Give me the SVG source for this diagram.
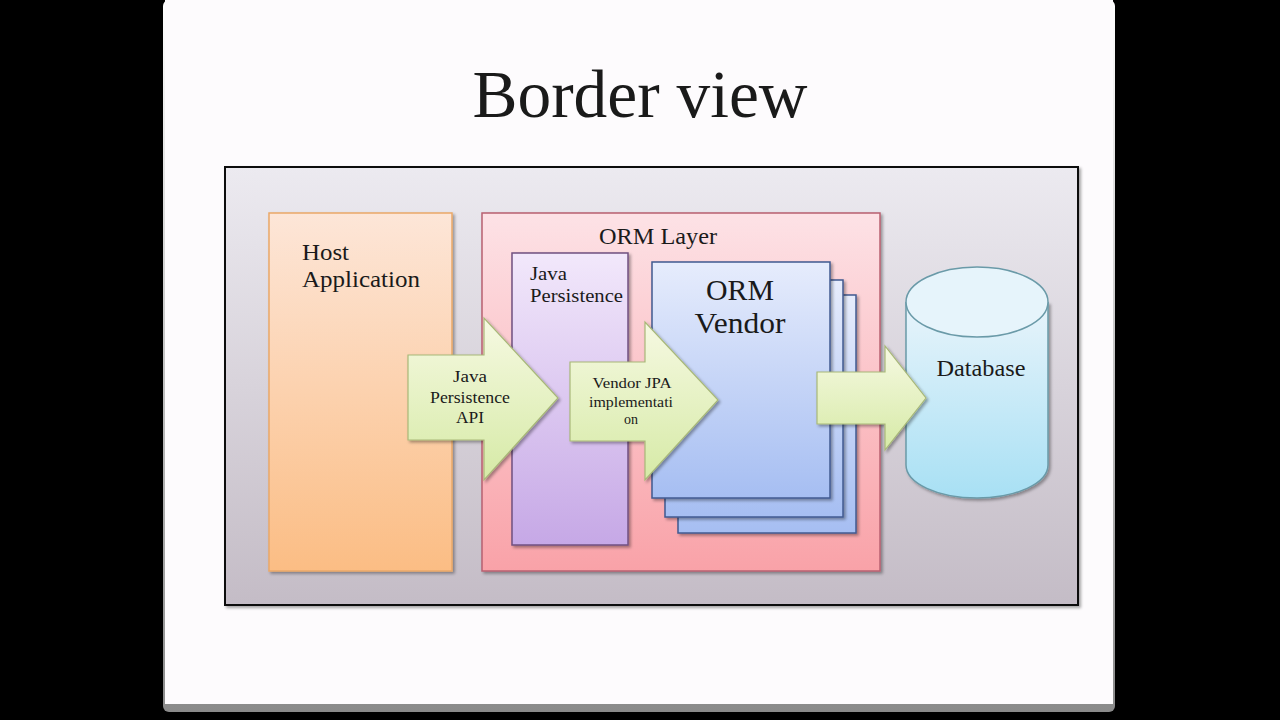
<svg xmlns="http://www.w3.org/2000/svg" width="1280" height="720" viewBox="0 0 1280 720">
<defs>
<linearGradient id="gOuter" x1="0" y1="0" x2="0" y2="1"><stop offset="0" stop-color="#eceaf0"/><stop offset="1" stop-color="#c4bcc6"/></linearGradient>
<linearGradient id="gHost" x1="0" y1="0" x2="0" y2="1"><stop offset="0" stop-color="#fde6d8"/><stop offset="1" stop-color="#fbbd84"/></linearGradient>
<linearGradient id="gOrm" x1="0" y1="0" x2="0" y2="1"><stop offset="0" stop-color="#fde2e6"/><stop offset="1" stop-color="#f9a2a8"/></linearGradient>
<linearGradient id="gJava" x1="0" y1="0" x2="0" y2="1"><stop offset="0" stop-color="#f2e8fb"/><stop offset="1" stop-color="#c6a8e6"/></linearGradient>
<linearGradient id="gVendor" x1="0" y1="0" x2="0" y2="1"><stop offset="0" stop-color="#e6ecfc"/><stop offset="1" stop-color="#a6bef2"/></linearGradient>
<linearGradient id="gArrow" x1="0" y1="0" x2="0" y2="1"><stop offset="0" stop-color="#f6f9e2"/><stop offset="1" stop-color="#d6eaa6"/></linearGradient>
<linearGradient id="gDb" x1="0" y1="0" x2="0" y2="1"><stop offset="0" stop-color="#e8f4fb"/><stop offset="1" stop-color="#a8e0f4"/></linearGradient>
<linearGradient id="gSlideShadow" x1="0" y1="0" x2="0" y2="1"><stop offset="0" stop-color="#ffffff"/><stop offset="1" stop-color="#8a8a8a"/></linearGradient>
<filter id="sh" x="-5%" y="-5%" width="115%" height="115%"><feDropShadow dx="2" dy="2" stdDeviation="1.5" flood-color="#000" flood-opacity="0.35"/></filter>
</defs>
<style>
.t{font-family:"Liberation Serif","Times New Roman",serif;fill:#1a1a1a}
.arrow{fill:url(#gArrow);stroke:#a8b878;stroke-width:1.2;filter:url(#sh)}
.page{fill:url(#gVendor);stroke:#405a90;stroke-width:1.5;filter:url(#sh)}
</style>
<rect x="0" y="0" width="1280" height="720" fill="#000"/>
<rect x="163" y="0" width="952" height="712" rx="6" fill="url(#gSlideShadow)"/>
<rect x="165" y="0" width="948" height="704" fill="#fdfbfd"/>
<text class="t" x="640" y="117" font-size="67" text-anchor="middle" fill="#222" textLength="335" lengthAdjust="spacingAndGlyphs">Border view</text>

<g id="outer">
<rect x="225" y="167" width="853" height="438" fill="url(#gOuter)" stroke="#111" stroke-width="2" filter="url(#sh)"/>
</g>
<g id="host">
<rect x="269" y="213" width="183" height="358" fill="url(#gHost)" stroke="#eaa868" stroke-width="1.5" filter="url(#sh)"/>
<text class="t" x="302" y="260" font-size="23" textLength="47" lengthAdjust="spacingAndGlyphs">Host</text>
<text class="t" x="302" y="287" font-size="23" textLength="118" lengthAdjust="spacingAndGlyphs">Application</text>
</g>
<g id="orm-layer">
<rect x="482" y="213" width="398" height="358" fill="url(#gOrm)" stroke="#b86070" stroke-width="1.5" filter="url(#sh)"/>
<text class="t" x="599" y="244" font-size="23" textLength="118" lengthAdjust="spacingAndGlyphs">ORM Layer</text>
</g>
<g id="java-persistence">
<rect x="512" y="253" width="116" height="292" fill="url(#gJava)" stroke="#705080" stroke-width="1.5" filter="url(#sh)"/>
<text class="t" x="530" y="280" font-size="18" textLength="37" lengthAdjust="spacingAndGlyphs">Java</text>
<text class="t" x="530" y="302" font-size="18" textLength="93" lengthAdjust="spacingAndGlyphs">Persistence</text>
</g>
<g id="orm-vendor">
<rect class="page" x="678" y="295" width="178" height="238"/>
<rect class="page" x="665" y="280" width="178" height="237"/>
<rect class="page" x="652" y="262" width="178" height="236"/>
<text class="t" x="740" y="300" font-size="29" text-anchor="middle" textLength="68" lengthAdjust="spacingAndGlyphs">ORM</text>
<text class="t" x="740" y="333" font-size="29" text-anchor="middle" textLength="91" lengthAdjust="spacingAndGlyphs">Vendor</text>
</g>
<g id="database">
<path d="M906,302 L906,465 A71,33 0 0 0 1048,465 L1048,302" fill="url(#gDb)" stroke="#6a9aa8" stroke-width="1.5" filter="url(#sh)"/>
<ellipse cx="977" cy="302" rx="71" ry="35" fill="#e6f4fb" stroke="#6a9aa8" stroke-width="1.5"/>
<text class="t" x="981" y="376" font-size="23" text-anchor="middle" textLength="89" lengthAdjust="spacingAndGlyphs">Database</text>
</g>
<g id="connectors">
<g id="arrow-jpa">
<path class="arrow" d="M408,355 L484,355 L484,318 L558,398 L484,480 L484,440 L408,440 Z"/>
<text class="t" x="470" y="382" font-size="16" text-anchor="middle" textLength="34" lengthAdjust="spacingAndGlyphs">Java</text>
<text class="t" x="470" y="403" font-size="16" text-anchor="middle" textLength="80" lengthAdjust="spacingAndGlyphs">Persistence</text>
<text class="t" x="470" y="423" font-size="16" text-anchor="middle" textLength="28" lengthAdjust="spacingAndGlyphs">API</text>
</g>
<g id="arrow-vendor">
<path class="arrow" d="M570,362 L645,362 L645,322 L718,400 L645,480 L645,441 L570,441 Z"/>
<text class="t" x="632" y="388" font-size="14" text-anchor="middle" textLength="79" lengthAdjust="spacingAndGlyphs">Vendor JPA</text>
<text class="t" x="631" y="407" font-size="14" text-anchor="middle" textLength="84" lengthAdjust="spacingAndGlyphs">implementati</text>
<text class="t" x="631" y="424" font-size="14" text-anchor="middle">on</text>
</g>
<g id="arrow-db">
<path class="arrow" d="M817,372 L885,372 L885,346 L926,398 L885,450 L885,424 L817,424 Z"/>
</g>
</g>
</svg>
